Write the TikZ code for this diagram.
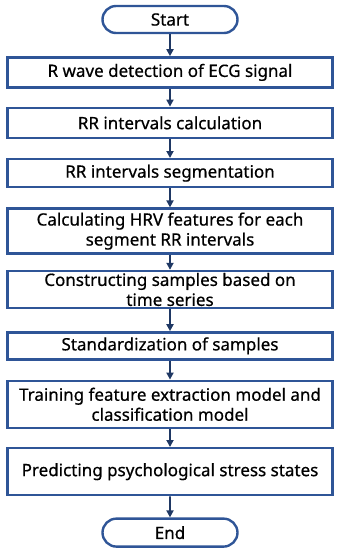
\documentclass[tikz,border=0pt]{standalone}
\usepackage{fontspec}
\setmainfont{Noto Sans}
\newfontfamily\flowfont{Noto Sans}[FakeBold=0.6]
\usepackage{tikz}
\usetikzlibrary{arrows.meta,positioning,shapes.misc}
\usepackage{xcolor}
\definecolor{FlowBlue}{HTML}{2F5597}
\definecolor{FlowNavy}{HTML}{1F3864}

\begin{document}
\begin{tikzpicture}[
    x=1pt,y=1pt,
    node distance=21pt,
    stepbox/.style={draw=FlowBlue,line width=2.4pt,fill=white,
      minimum width=325pt,inner sep=0pt,align=center,
      font=\flowfont\fontsize{17}{20}\selectfont},
    term/.style={draw=FlowBlue,line width=2.4pt,rounded rectangle,fill=white,
      minimum width=135pt,minimum height=27pt,inner sep=0pt,
      font=\flowfont\fontsize{17}{20}\selectfont},
    arr/.style={-{Triangle[length=7pt,width=7pt]},line width=1.8pt,draw=FlowNavy}
  ]
    \useasboundingbox (0,0) rectangle (341,-550);
    \node[term] (start) at (170,-19.5) {Start};
    \node[stepbox,minimum height=30pt,below=22pt of start] (rwave) {R wave detection of ECG signal};
    \node[stepbox,minimum height=30pt,below=18pt of rwave] (rrcalc) {RR intervals calculation};
    \node[stepbox,minimum height=28pt,below=19pt of rrcalc] (rrseg) {RR intervals segmentation};
    \node[stepbox,minimum height=45pt,below=19pt of rrseg] (hrv) {Calculating HRV features for each\\segment RR intervals};
    \node[stepbox,minimum height=37pt,below=15pt of hrv] (samples) {Constructing samples based on\\time series};
    \node[stepbox,minimum height=27pt,below=22pt of samples] (stand) {Standardization of samples};
    \node[stepbox,minimum height=47pt,below=19pt of stand] (train) {Training feature extraction model and\\classification model};
    \node[stepbox,minimum height=47pt,below=18pt of train] (predict) {Predicting psychological stress states};
    \node[term,minimum height=28pt,below=21pt of predict] (finish) {End};
    \draw[arr] (start)--(rwave);
    \draw[arr] (rwave)--(rrcalc);
    \draw[arr] (rrcalc)--(rrseg);
    \draw[arr] (rrseg)--(hrv);
    \draw[arr] (hrv)--(samples);
    \draw[arr] (samples)--(stand);
    \draw[arr] (stand)--(train);
    \draw[arr] (train)--(predict);
    \draw[arr] (predict)--(finish);
  \end{tikzpicture}
\end{document}
